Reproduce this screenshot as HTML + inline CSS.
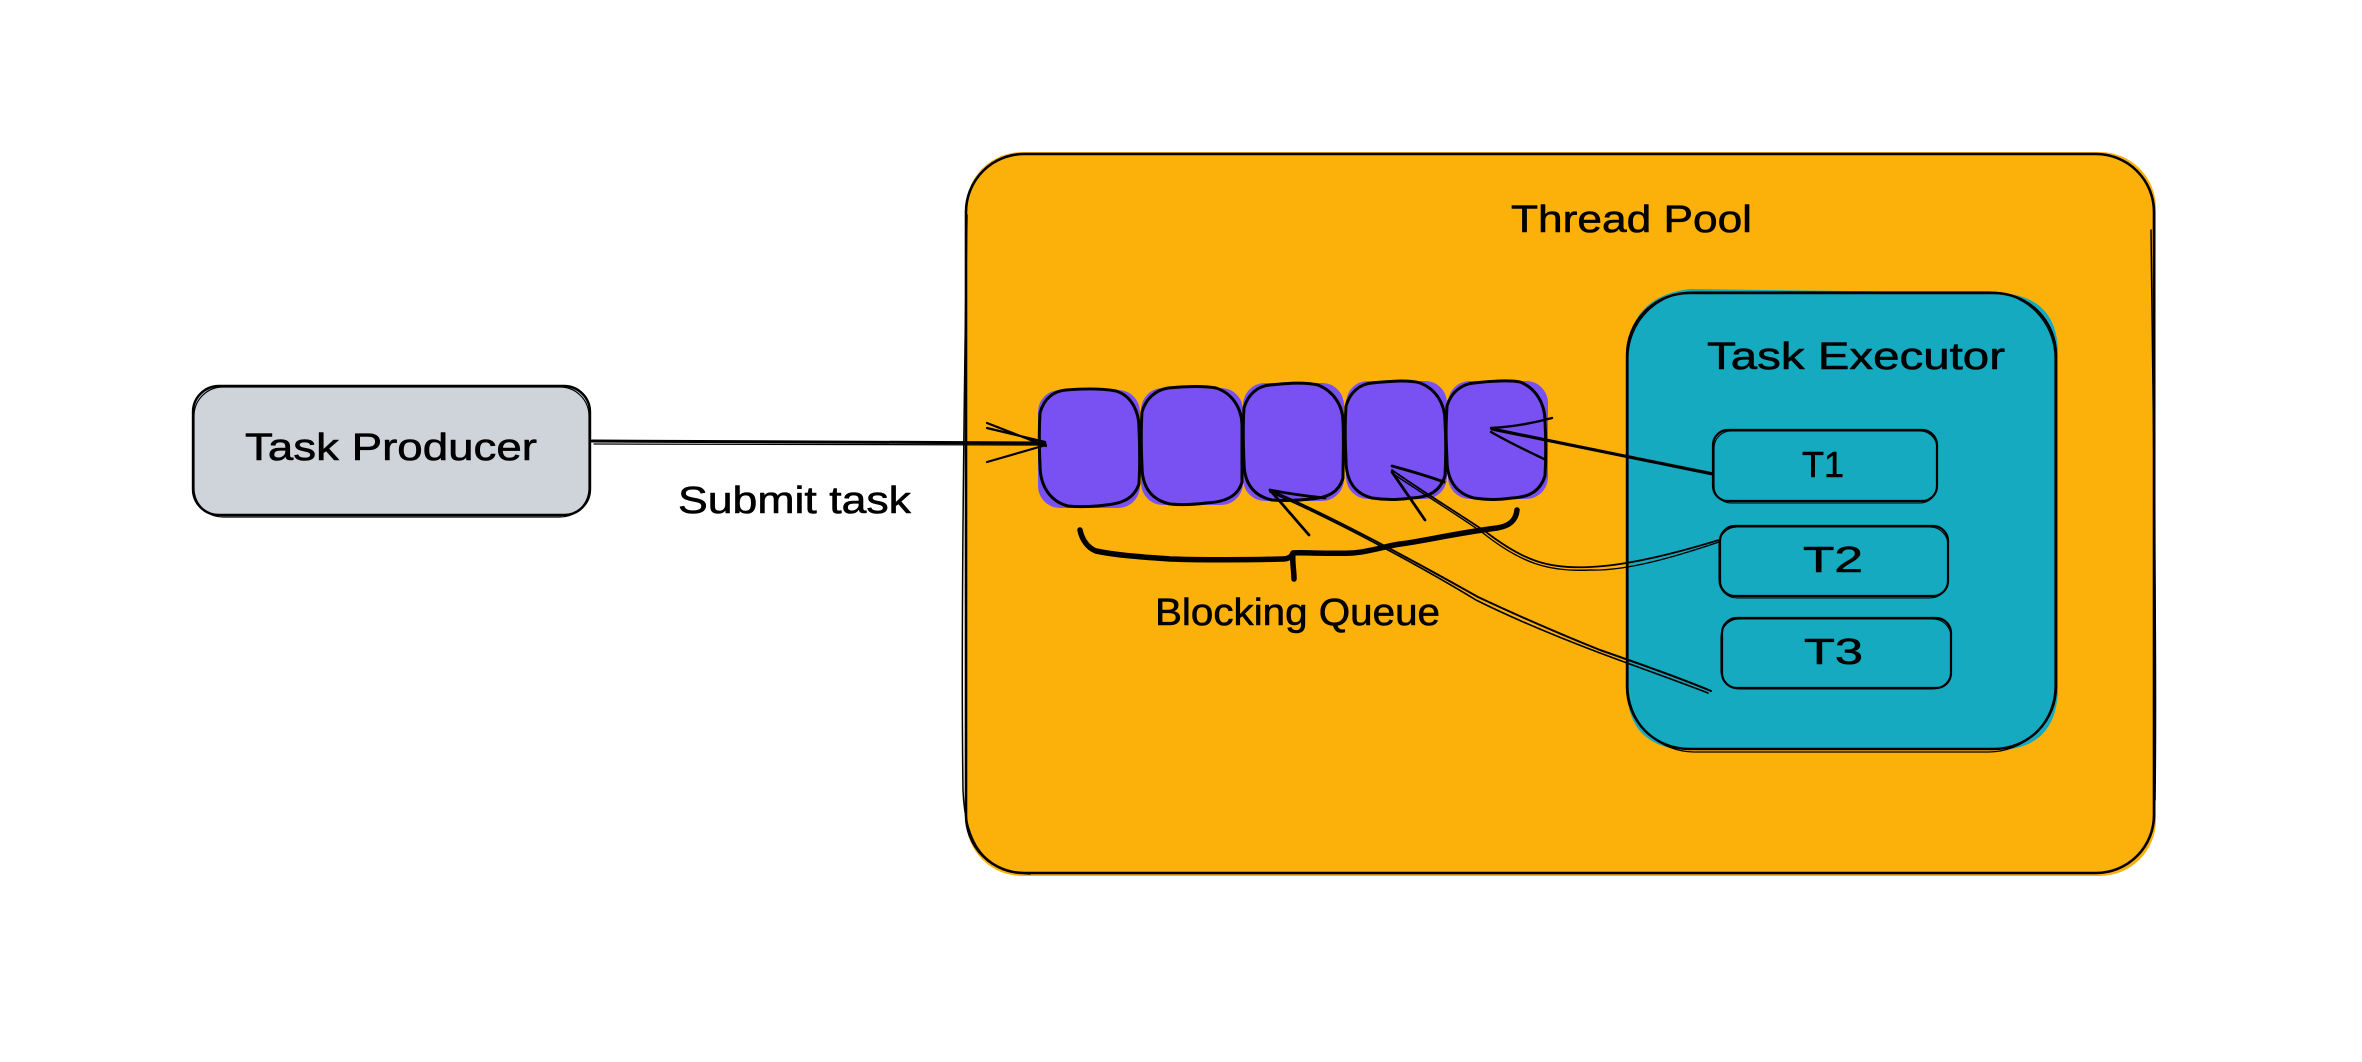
<!DOCTYPE html>
<html lang="en">
<head>
<meta charset="utf-8">
<title>Thread Pool Diagram</title>
<style>
html,body{margin:0;padding:0;background:#fff;width:2362px;height:1062px;overflow:hidden}
svg{display:block}
text{font-family:"Liberation Sans",sans-serif;fill:#000;stroke:#000;stroke-width:.6px;stroke-linejoin:round}
.s{fill:none;stroke:#000;stroke-linecap:round;stroke-linejoin:round}
</style>
</head>
<body>
<svg xmlns="http://www.w3.org/2000/svg" width="2362" height="1062" viewBox="0 0 2362 1062">
<rect width="2362" height="1062" fill="#fff"/>

<!-- Task Producer -->
<rect x="194" y="387" width="396" height="128" rx="24" fill="#ced4da"/>
<rect class="s" x="193" y="386" width="397" height="129" rx="26" stroke-width="2.4"/>
<rect class="s" x="194" y="387" width="395" height="130" rx="29" stroke-width="1.2"/>

<!-- Thread Pool -->
<rect x="966" y="152" width="1190" height="724" rx="56" fill="#fcb00a"/>
<rect class="s" x="966" y="154" width="1188" height="719" rx="58" stroke-width="2.6"/>
<path class="s" stroke-width="1.5" d="M967 215C964 400 961 650 963 790C965 845 985 872 1030 874M2151 230C2153 400 2157 650 2155 800"/>

<!-- Task Executor -->
<path d="M1690 289L2000 293Q2058 296 2058 354V690Q2056 750 1996 750H1688Q1628 748 1627 690V354Q1630 296 1690 289Z" fill="#15aabf"/>
<rect class="s" x="1627" y="293" width="429" height="456" rx="62" stroke-width="2.4"/>
<rect class="s" x="1628" y="292" width="427" height="460" rx="66" stroke-width="1.2"/>

<!-- Queue cells -->
<g fill="#7950f2">
<rect x="1038" y="390" width="102" height="118" rx="22"/>
<rect x="1141" y="388" width="102" height="117" rx="22"/>
<rect x="1243" y="383" width="101" height="118" rx="22"/>
<rect x="1346" y="381" width="101" height="118" rx="22"/>
<rect x="1448" y="381" width="100" height="118" rx="22"/>
</g>
<g class="s" stroke-width="3">
<path d="M1066 390C1090 388 1105 389 1116 391C1132 396 1139 412 1139 428C1140 450 1140 465 1139 484C1134 498 1124 503 1106 505C1090 507 1078 507 1068 506C1052 502 1040 488 1040 465C1039 445 1039 430 1040 413C1044 398 1054 391 1066 390Z"/>
<path d="M1168 388C1190 386 1205 386 1216 388C1232 393 1242 408 1242 426C1242 445 1242 465 1242 482C1238 496 1226 502 1206 503C1190 505 1180 505 1170 504C1152 500 1142 488 1142 466C1141 445 1141 428 1142 412C1146 398 1156 390 1168 388Z"/>
<path d="M1270 385C1290 383 1305 382 1318 385C1333 391 1343 405 1343 422C1344 440 1343 458 1343 478C1339 492 1328 498 1310 499C1295 501 1285 501 1272 500C1254 496 1244 484 1244 462C1243 440 1243 424 1244 408C1248 394 1258 386 1270 385Z"/>
<path d="M1372 383C1390 381 1410 380 1420 383C1436 389 1445 404 1445 421C1446 440 1446 458 1445 476C1440 491 1430 497 1412 498C1398 500 1385 500 1372 498C1356 494 1346 482 1346 460C1345 440 1345 422 1346 406C1350 392 1360 384 1372 383Z"/>
<path d="M1474 383C1490 381 1510 380 1520 382C1536 388 1545 404 1545 421C1546 440 1546 458 1545 476C1540 491 1530 497 1512 498C1498 500 1488 500 1474 498C1458 494 1447 482 1447 460C1446 440 1446 422 1447 406C1451 392 1462 384 1474 383Z"/>
</g>

<!-- Task boxes -->
<g class="s">
<rect x="1713" y="430" width="224" height="71" rx="15" stroke-width="2.2"/>
<rect x="1714" y="431" width="223" height="72" rx="17" stroke-width="1.1"/>
<rect x="1720" y="526" width="228" height="70" rx="15" stroke-width="2.2"/>
<rect x="1719" y="527" width="229" height="71" rx="18" stroke-width="1.1"/>
<rect x="1722" y="618" width="229" height="70" rx="15" stroke-width="2.2"/>
<rect x="1721" y="619" width="230" height="70" rx="18" stroke-width="1.1"/>
</g>

<!-- Submit arrow -->
<g class="s">
<path d="M592 441L1045 443" stroke-width="3"/>
<path d="M594 444L1045 445" stroke-width="1.3"/>
<path d="M987 423L1046 446M987 428L1045 442M987 462L1046 445" stroke-width="2.2"/>
</g>

<!-- T1 to cell 5 -->
<g class="s">
<path d="M1713 474L1492 429" stroke-width="3.2"/>
<path d="M1552 418C1530 424 1510 427 1491 428M1544 459C1525 450 1505 440 1491 432" stroke-width="2.4"/>
</g>

<!-- T2 to cell 4 -->
<g class="s">
<path d="M1719 540C1660 558 1620 566 1590 567C1550 569 1525 562 1486 532C1450 508 1420 490 1392 470" stroke-width="1.8"/>
<path d="M1719 542C1660 562 1620 571 1590 570C1550 572 1522 564 1483 533C1450 510 1420 492 1392 473" stroke-width="1.4"/>
<path d="M1425 520L1392 472M1444 482C1425 475 1410 471 1392 466" stroke-width="2.8"/>
</g>

<!-- T3 to cell 3 -->
<g class="s">
<path d="M1711 691C1680 678 1640 664 1600 650C1550 630 1510 612 1478 597C1430 570 1340 520 1270 490" stroke-width="2"/>
<path d="M1708 693C1680 682 1640 668 1600 653C1550 634 1508 616 1476 600C1430 572 1340 522 1270 492" stroke-width="1.6"/>
<path d="M1309 535L1270 490M1325 498C1305 496 1290 494 1270 490" stroke-width="2.8"/>
</g>

<!-- Brace -->
<path class="s" stroke-width="5.5" d="M1080 530C1082 540 1088 548 1096 551C1120 556 1145 557 1170 559C1200 560 1250 560 1283 559C1289 559 1292 556 1293 553C1292 562 1294 570 1294 579M1293 553C1296 552 1330 554 1352 553C1370 552 1385 546 1400 544C1420 542 1450 534 1497 528C1510 526 1516 520 1517 510"/>

<!-- Labels -->
<text x="245" y="460" font-size="38" textLength="292" lengthAdjust="spacingAndGlyphs">Task Producer</text>
<text x="678" y="513" font-size="38" textLength="233" lengthAdjust="spacingAndGlyphs">Submit task</text>
<text x="1511" y="232" font-size="38" textLength="241" lengthAdjust="spacingAndGlyphs">Thread Pool</text>
<text x="1707" y="369" font-size="38" textLength="298" lengthAdjust="spacingAndGlyphs">Task Executor</text>
<text x="1155" y="625" font-size="38" textLength="285" lengthAdjust="spacingAndGlyphs">Blocking Queue</text>
<text x="1802" y="477" font-size="36" textLength="42" lengthAdjust="spacingAndGlyphs">T1</text>
<text x="1803" y="572" font-size="36" textLength="60" lengthAdjust="spacingAndGlyphs">T2</text>
<text x="1804" y="664" font-size="36" textLength="59" lengthAdjust="spacingAndGlyphs">T3</text>
</svg>
</body>
</html>
